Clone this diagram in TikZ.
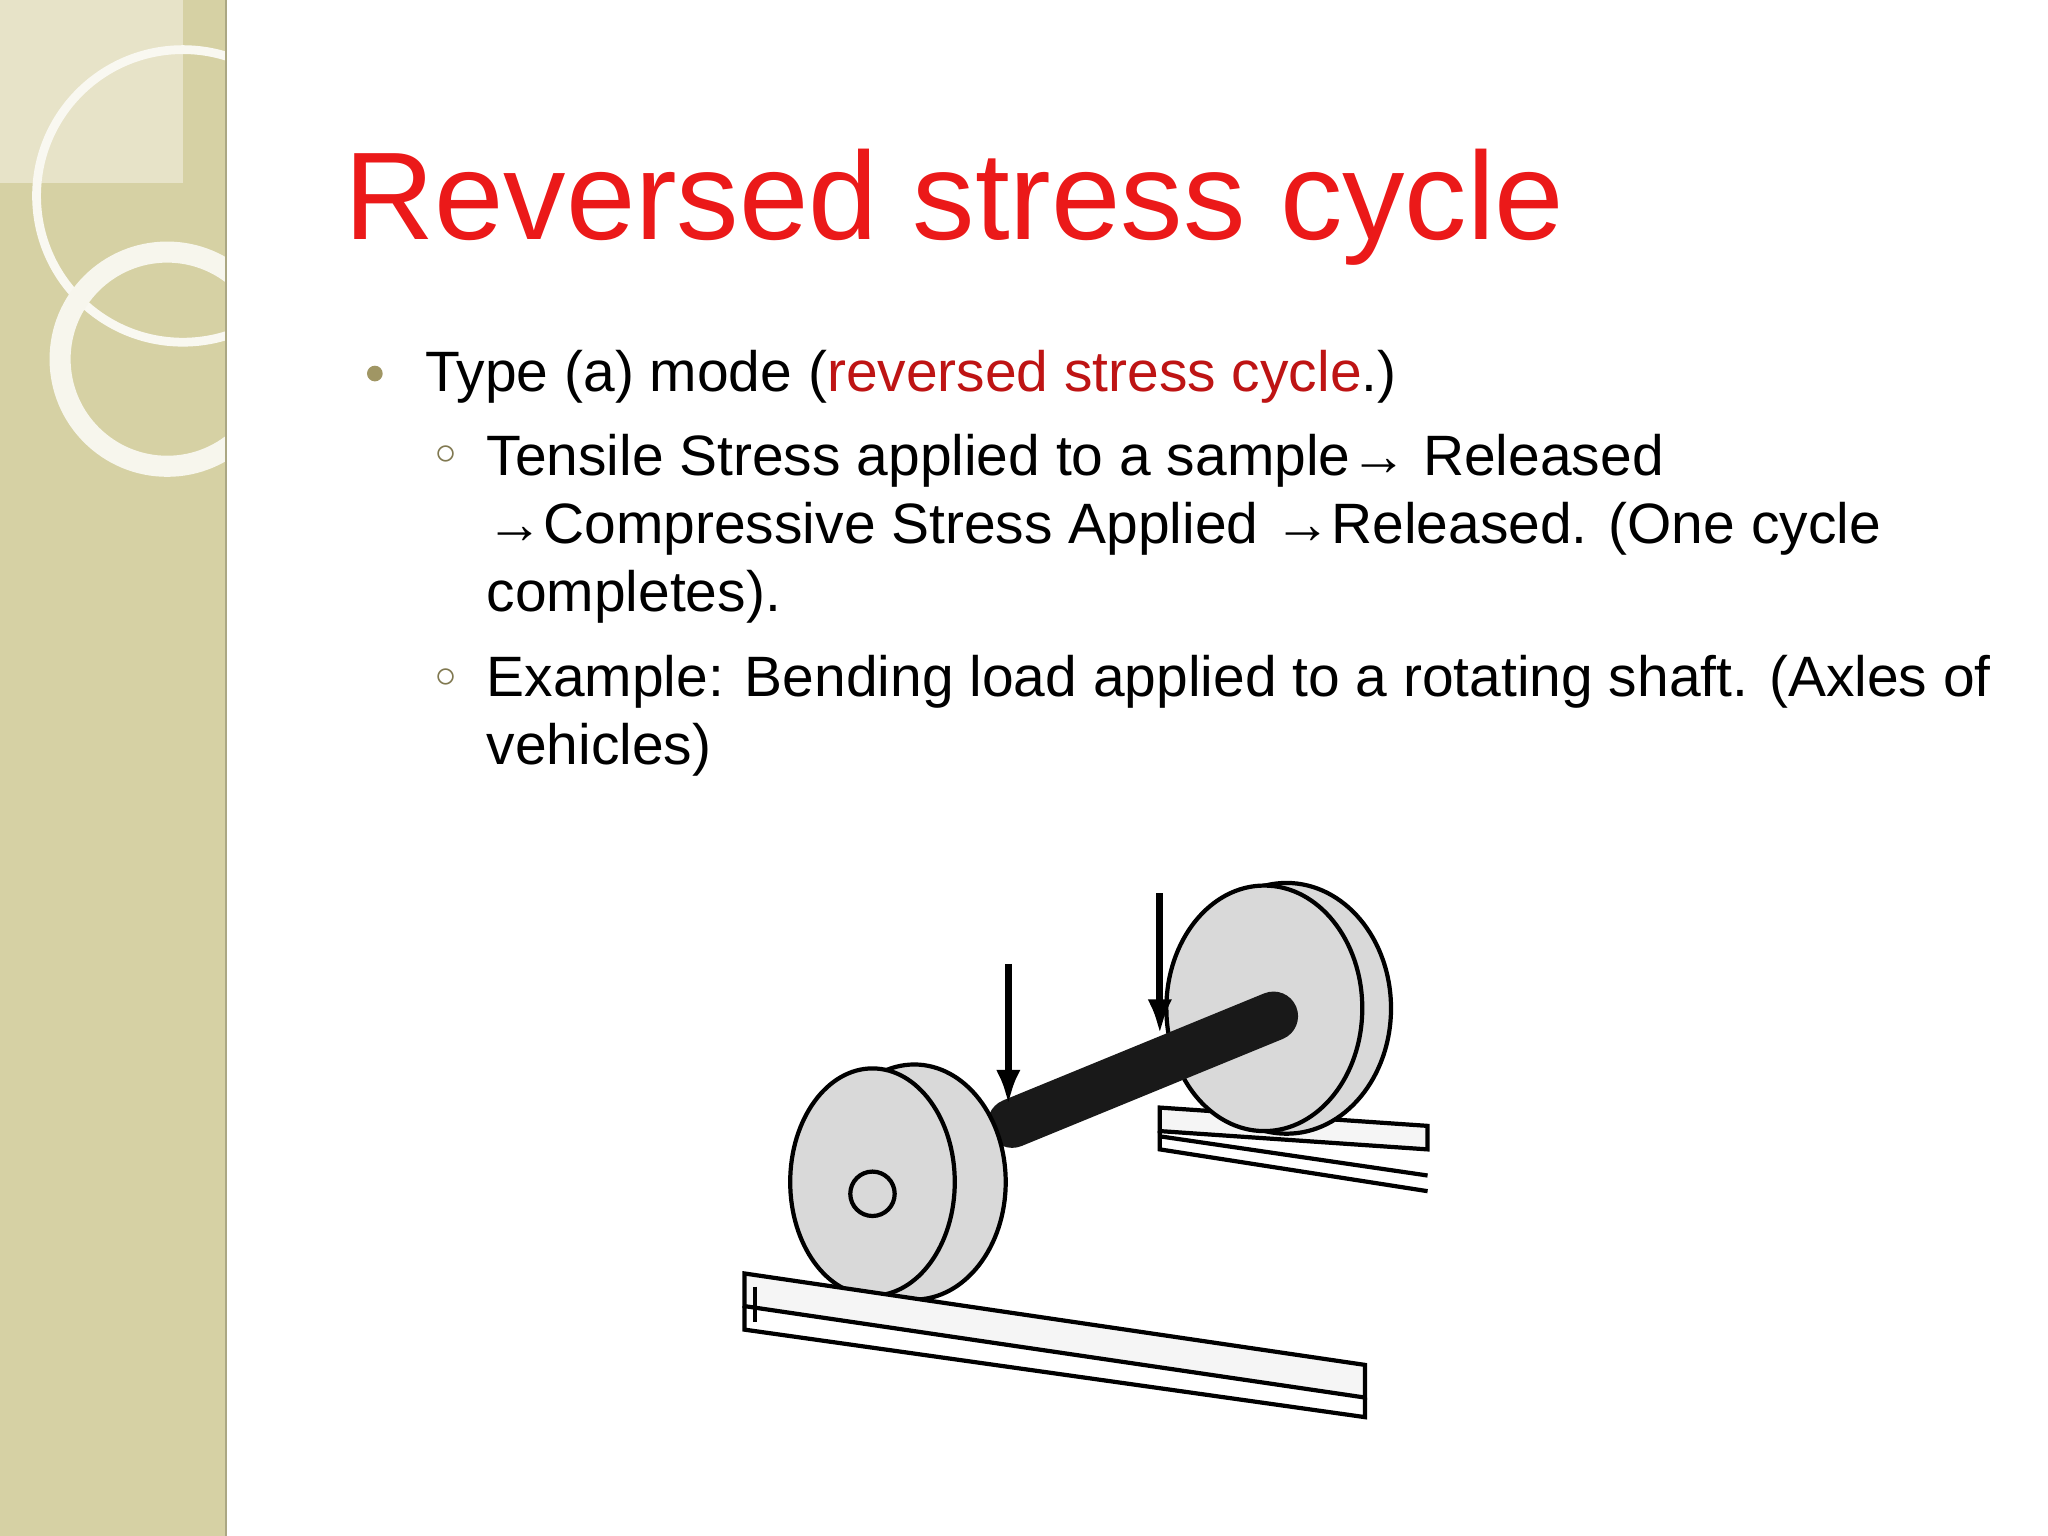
\documentclass[tikz,border=0pt]{standalone}
\usepackage{fontspec}
\setmainfont{Liberation Sans}
\usetikzlibrary{arrows.meta}
\definecolor{panel}{RGB}{214,209,164}
\definecolor{ttl}{RGB}{235,25,25}
\definecolor{hl}{RGB}{190,20,20}
\definecolor{bul}{RGB}{160,150,100}
\tikzset{txt/.style={anchor=base west,inner sep=0pt,font=\fontsize{16.2pt}{20pt}\selectfont},
 wheel/.style={draw=black,line width=1.2pt,fill=gray!30},
 load/.style={line width=2pt,-{Latex[length=10pt,width=7pt]}}}
\begin{document}
\begin{tikzpicture}[x=0.013061cm,y=-0.013061cm]
\useasboundingbox (0,0) rectangle (1568,1176);
\fill[white] (0,0) rectangle (1568,1176);
\fill[panel] (0,0) rectangle (173,1176);
\begin{scope}
\clip (0,0) rectangle (173,1176);
\fill[panel!60!white] (0,0) rectangle (140,140);
\draw[white!85!panel,line width=2.5pt] (140,150) circle (112);
\draw[white!80!panel,line width=6pt] (128,275) circle (82);
\end{scope}
\draw[panel!80!black,line width=0.8pt] (173,0) -- (173,1176);
% title
\node[anchor=base west,inner sep=0pt,text=ttl,font=\fontsize{35.5pt}{40pt}\selectfont] (title) at (263,183) {Reversed stress cycle};
% bullets
\fill[bul] (287,286) circle (6);
\node[txt] (l1) at (325,300) {Type (a) mode (\textcolor{hl}{reversed stress cycle}.)};
\node[txt,text=bul!80!black] (s1) at (333,356) {\fontsize{12pt}{12pt}\selectfont$\circ$};
\node[txt] (l2) at (372,364) {Tensile Stress applied to a sample→ Released};
\node[txt] (l3) at (372,416) {→Compressive Stress Applied →Released. (One cycle};
\node[txt] (l4) at (372,468) {completes).};
\node[txt,text=bul!80!black] (s2) at (333,526) {\fontsize{12pt}{12pt}\selectfont$\circ$};
\node[txt] (l5) at (372,533) {Example: Bending load applied to a rotating shaft. (Axles of};
\node[txt] (l6) at (372,585) {vehicles)};
% right rail
\draw[line width=1.2pt,fill=gray!8] (888,848) -- (1093,862) -- (1093,880) -- (888,866) -- cycle;
\draw[line width=1.2pt] (888,866) -- (888,880) -- (1093,912);
\draw[line width=1.2pt] (888,870) -- (1093,900);
% right wheel
\draw[wheel] (985,772) ellipse (80 and 96);
\draw[wheel] (968,772) ellipse (75 and 94);
% axle
\draw[line width=14pt,gray!20!black,line cap=round] (775,860) -- (975,778);
% left wheel
\draw[wheel] (700,905) ellipse (70 and 90);
\draw[wheel] (668,905) ellipse (63 and 87);
\draw[wheel] (668,914) circle (17);
% lower rail
\draw[line width=1.2pt,fill=gray!8] (570,975) -- (1045,1045) -- (1045,1070) -- (570,1000) -- cycle;
\draw[line width=1.2pt] (570,1000) -- (570,1018) -- (1045,1085) -- (1045,1070);
\draw[line width=1.2pt] (578,985) -- (578,1012);
% loads
\coordinate (a1) at (772,738); \coordinate (a2) at (772,846);
\coordinate (b1) at (888,684); \coordinate (b2) at (888,792);
\draw[load] (a1) -- (a2);
\draw[load] (b1) -- (b2);
\end{tikzpicture}
\end{document}
